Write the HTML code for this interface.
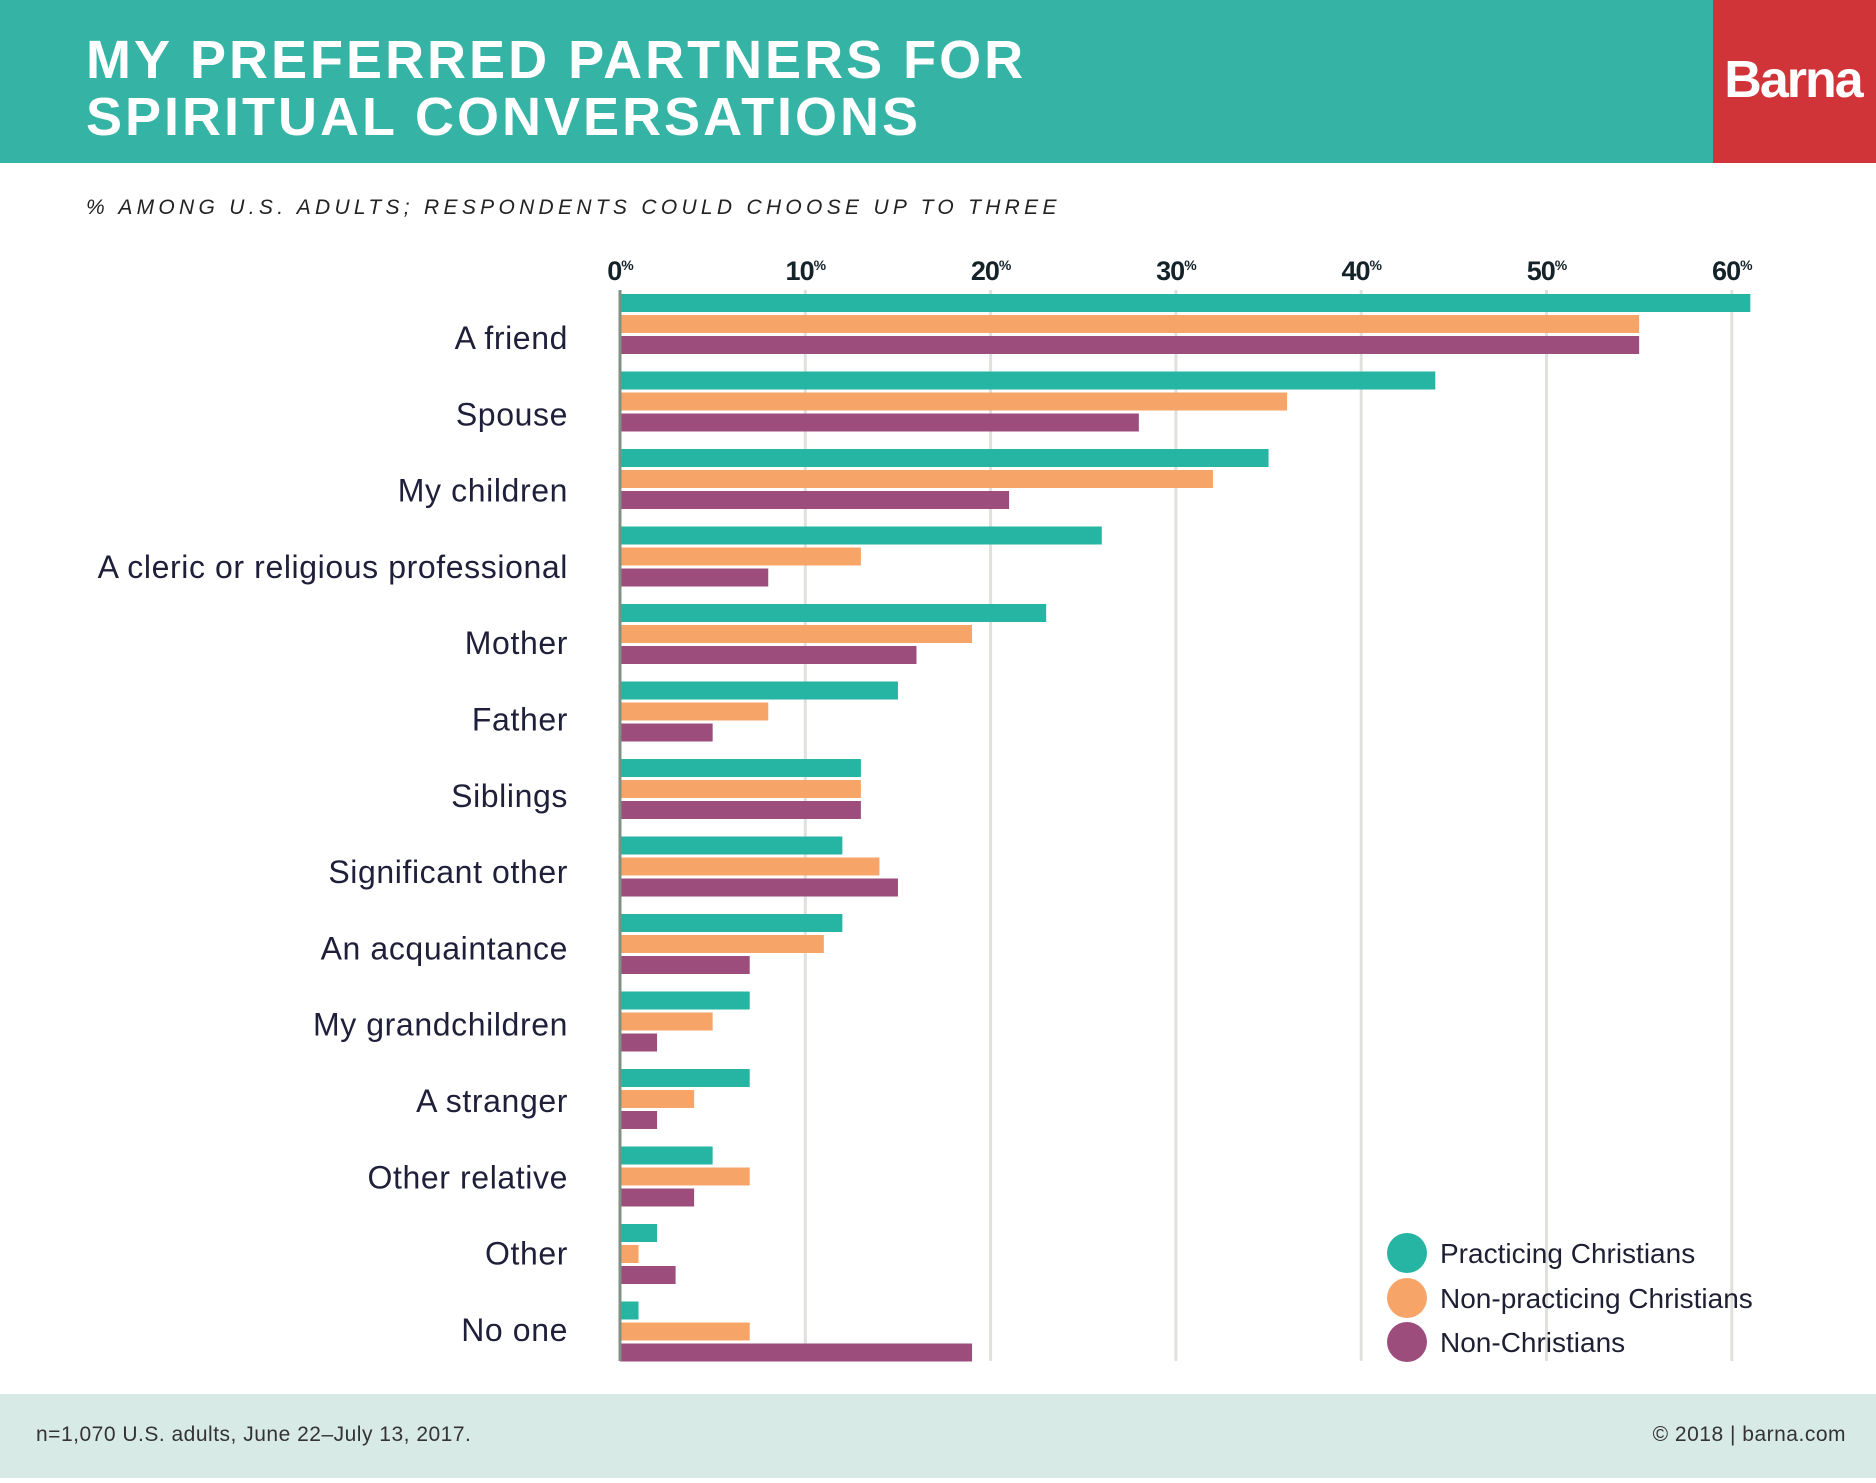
<!DOCTYPE html>
<html><head><meta charset="utf-8"><style>
body{margin:0;width:1876px;height:1478px;overflow:hidden;background:#fff;font-family:"Liberation Sans",sans-serif;}
</style></head><body>
<svg width="1876" height="1478" xmlns="http://www.w3.org/2000/svg" id="chart">
<rect x="0" y="0" width="1713" height="163" fill="#35b3a5"/>
<rect x="1713" y="0" width="163" height="163" fill="#d13438"/>
<text x="1793" y="97" text-anchor="middle" font-size="52" font-weight="bold" fill="#fff" letter-spacing="-2">Barna</text>
<text x="86" y="78" font-size="54" font-weight="bold" fill="#fff" letter-spacing="3">MY PREFERRED PARTNERS FOR</text>
<text x="86" y="135" font-size="54" font-weight="bold" fill="#fff" letter-spacing="3">SPIRITUAL CONVERSATIONS</text>
<text x="86" y="214" font-size="21" font-style="italic" fill="#222" letter-spacing="4.3">% AMONG U.S. ADULTS; RESPONDENTS COULD CHOOSE UP TO THREE</text>
<g id="grid"></g><g id="bars"></g><g id="labels"></g>
<g>
<circle cx="1407" cy="1253" r="20" fill="#26b5a3"/>
<text x="1440" y="1263" font-size="28" fill="#1f1f33">Practicing Christians</text>
<circle cx="1407" cy="1298" r="20" fill="#f7a468"/>
<text x="1440" y="1308" font-size="28" fill="#1f1f33">Non-practicing Christians</text>
<circle cx="1407" cy="1342" r="20" fill="#9c4d7c"/>
<text x="1440" y="1352" font-size="28" fill="#1f1f33">Non-Christians</text>
</g>
<rect x="0" y="1394" width="1876" height="84" fill="#d8eae6"/>
<text x="36" y="1441" font-size="21" fill="#333" letter-spacing="0.5">n=1,070 U.S. adults, June 22–July 13, 2017.</text>
<text x="1846" y="1441" text-anchor="end" font-size="21" fill="#333" letter-spacing="0.5">© 2018 | barna.com</text>
</svg>
<script>
const categories=["A friend","Spouse","My children","A cleric or religious professional","Mother","Father","Siblings","Significant other","An acquaintance","My grandchildren","A stranger","Other relative","Other","No one"];
const practicing=[61,44,35,26,23,15,13,12,12,7,7,5,2,1];
const nonPracticing=[55,36,32,13,19,8,13,14,11,5,4,7,1,7];
const nonChristians=[55,28,21,8,16,5,13,15,7,2,2,4,3,19];
const ticks=[0,10,20,30,40,50,60];
const NS="http://www.w3.org/2000/svg";
const x0=620,perPct=18.53,top0=294,pitch=77.5,bh=18,step=21,gridTop=290,gridBot=1361;
const xs=v=>x0+v*perPct;
const yg=i=>top0+i*pitch;
function mk(t,a){const e=document.createElementNS(NS,t);for(const k in a)e.setAttribute(k,a[k]);return e;}
const grid=document.getElementById('grid'),bars=document.getElementById('bars'),labels=document.getElementById('labels');
ticks.forEach(t=>{
 if(t>0){const l=mk('line',{x1:xs(t),x2:xs(t),y1:gridTop,y2:gridBot,stroke:'#e0e0dc','stroke-width':3});
 
 
 grid.appendChild(l);}
 const tx=mk('text',{x:xs(t),y:280,'text-anchor':'middle','font-size':27,'font-weight':'bold',fill:'#14222a','letter-spacing':-1});
 
 
 tx.textContent=t;
 const sp=mk('tspan',{'font-size':14,dy:-10});sp.textContent='%';tx.appendChild(sp);
 grid.appendChild(tx);
});
const series=[[practicing,'#26b5a3','practicing'],[nonPracticing,'#f7a468','nonpracticing'],[nonChristians,'#9c4d7c','nonchristians']];
categories.forEach((c,i)=>{
 series.forEach(([arr,col,nm],j)=>{
  const r=mk('rect',{x:x0,y:yg(i)+j*step,width:xs(arr[i])-x0,height:bh,fill:col});
  
  
  bars.appendChild(r);
 });
 const t=mk('text',{x:568,y:349+i*76.3,'text-anchor':'end','font-size':32,fill:'#1f1f3a','letter-spacing':0.6});
 
 
 t.textContent=c;labels.appendChild(t);
});
const ax=mk('line',{x1:x0,x2:x0,y1:gridTop,y2:gridBot,stroke:'#7f9183','stroke-width':3});


bars.appendChild(ax);
</script>
</body></html>
